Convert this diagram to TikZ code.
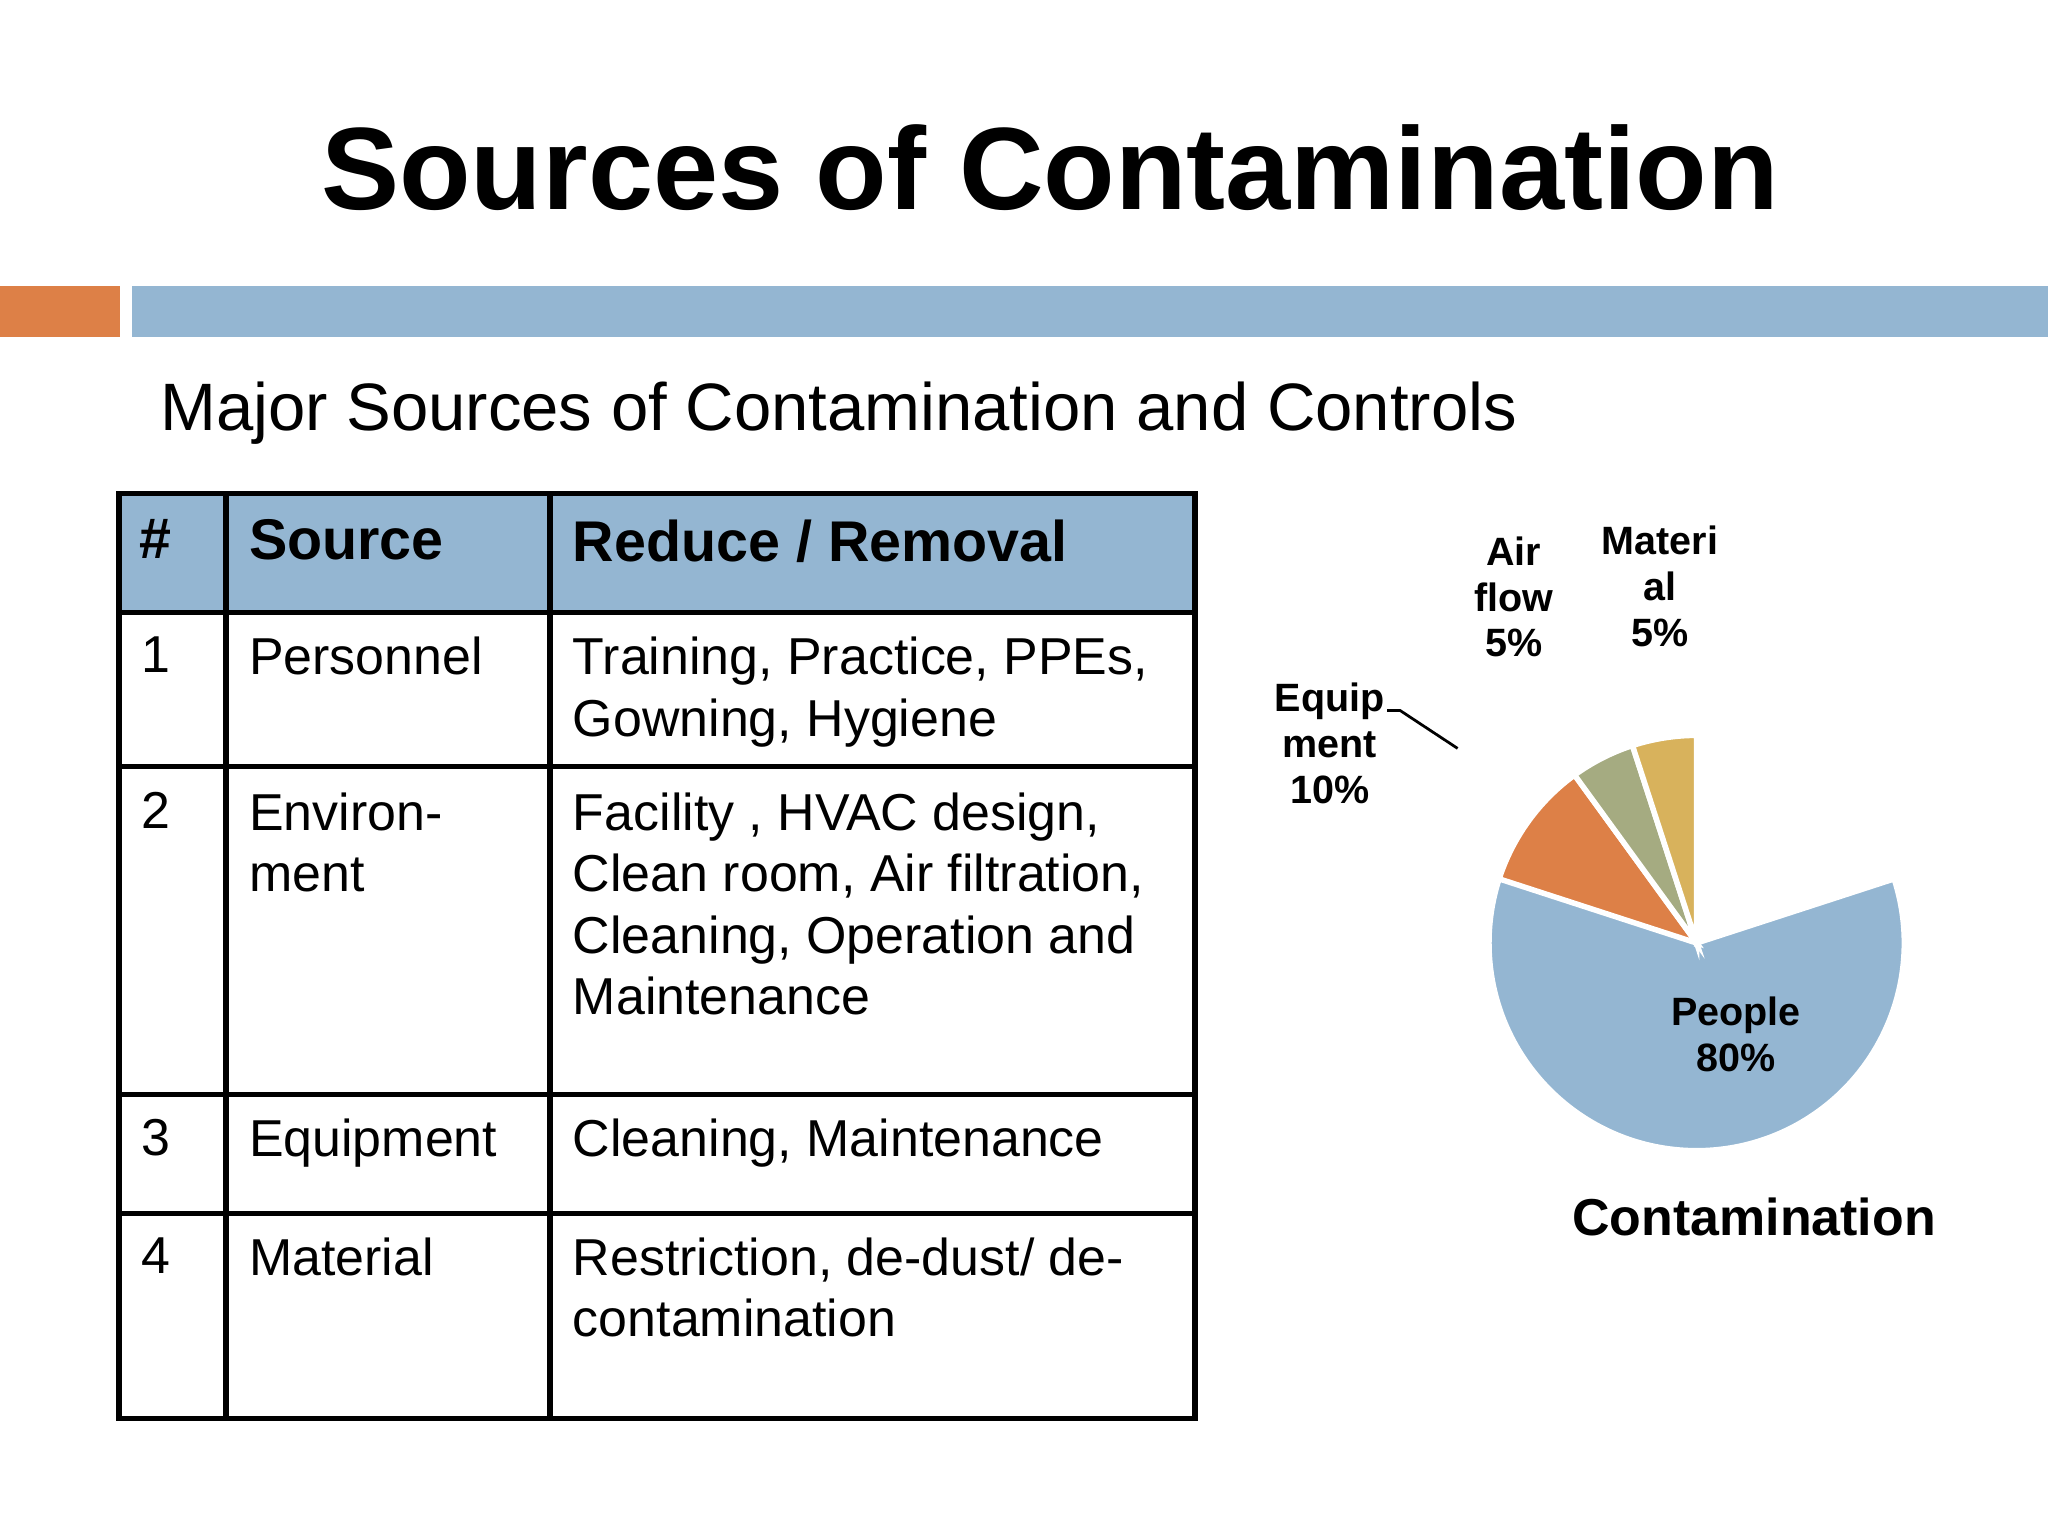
\documentclass[tikz,border=0pt]{standalone}
\usepackage{fontspec}
\setmainfont{Liberation Sans}
\definecolor{ob}{HTML}{DD8047}
\definecolor{bb}{HTML}{94B6D2}
\definecolor{gb}{HTML}{A5AB81}
\definecolor{yb}{HTML}{D8B25C}
\begin{document}
\begin{tikzpicture}[x=0.01cm,y=-0.01cm,
 hd/.style={anchor=north west,font=\fontsize{12.5}{14}\selectfont\bfseries,inner sep=0},
 bd/.style={anchor=north west,font=\fontsize{11.3}{13.4}\selectfont,inner sep=0,align=left},
 pl/.style={font=\fontsize{8.6}{10}\selectfont\bfseries,align=center,inner sep=0},
 sl/.style={draw=white,line width=1.2pt}]
\useasboundingbox[fill=white] (0,0) rectangle (1568,1175);
\node (title) at (804,128) {\fontsize{25.5}{30}\selectfont\bfseries Sources of Contamination};
\fill[ob] (0,219) rectangle (92,258);
\fill[bb] (101,219) rectangle (1568,258);
\node[anchor=west,inner sep=0] (sub) at (122,316) {\fontsize{14.6}{17}\selectfont Major Sources of Contamination and Controls};
% table
\fill[bb] (91,378) rectangle (915,469);
\draw[line width=1.2pt] (91,378) rectangle (915,1086);
\foreach \yy in {469,587,838,929} \draw[line width=1.2pt] (91,\yy) -- (915,\yy);
\foreach \xx in {173,421} \draw[line width=1.2pt] (\xx,378) -- (\xx,1086);
\node[hd] (h1) at (106,397) {\#};
\node[hd] (h2) at (190,397) {Source};
\node[hd] (h3) at (438,397) {Reduce / Removal};
\node[bd] (a1) at (108,487) {1};
\node[bd] (b1) at (190,487) {Personnel};
\node[bd] (c1) at (438,487) {Training, Practice, PPEs,\\Gowning, Hygiene};
\node[bd] (a2) at (108,606) {2};
\node[bd] (b2) at (190,606) {Environ-\\ment};
\node[bd] (c2) at (438,606) {Facility , HVAC design,\\Clean room, Air filtration,\\Cleaning, Operation and\\Maintenance};
\node[bd] (a3) at (108,856) {3};
\node[bd] (b3) at (190,856) {Equipment};
\node[bd] (c3) at (438,856) {Cleaning, Maintenance};
\node[bd] (a4) at (108,947) {4};
\node[bd] (b4) at (190,947) {Material};
\node[bd] (c4) at (438,947) {Restriction, de-dust/ de-\\contamination};
% pie (y axis flipped: use negative angles)
\coordinate (pc) at (1299,722);
\fill[bb,sl] (pc) -- ++(-90:159) arc[start angle=-90,end angle=-378,radius=159] -- cycle;
\begin{scope}[shift={(-62,-50)}]
\fill[ob,sl] (pc) -- ++(-126:159) arc[start angle=-126,end angle=-162,radius=159] -- cycle;
\end{scope}
\begin{scope}[shift={(-40,-72)}]
\fill[gb,sl] (pc) -- ++(-108:159) arc[start angle=-108,end angle=-126,radius=159] -- cycle;
\end{scope}
\begin{scope}[shift={(-28,-72)}]
\fill[yb,sl] (pc) -- ++(-90:159) arc[start angle=-90,end angle=-108,radius=159] -- cycle;
\end{scope}
\node[pl] (lp) at (1329,792) {People\\80\%};
\node[pl] (le) at (1018,569) {Equip\\ment\\10\%};
\node[pl] (la) at (1159,457) {Air\\flow\\5\%};
\node[pl] (lm) at (1271,449) {Materi\\al\\5\%};
\coordinate (ee) at (1116,573);
\draw[line width=0.6pt] (1062,544) -- (1072,544) -- (ee);
\node (ct) at (1343,932) {\fontsize{11.3}{13}\selectfont\bfseries Contamination};
\end{tikzpicture}
\end{document}
